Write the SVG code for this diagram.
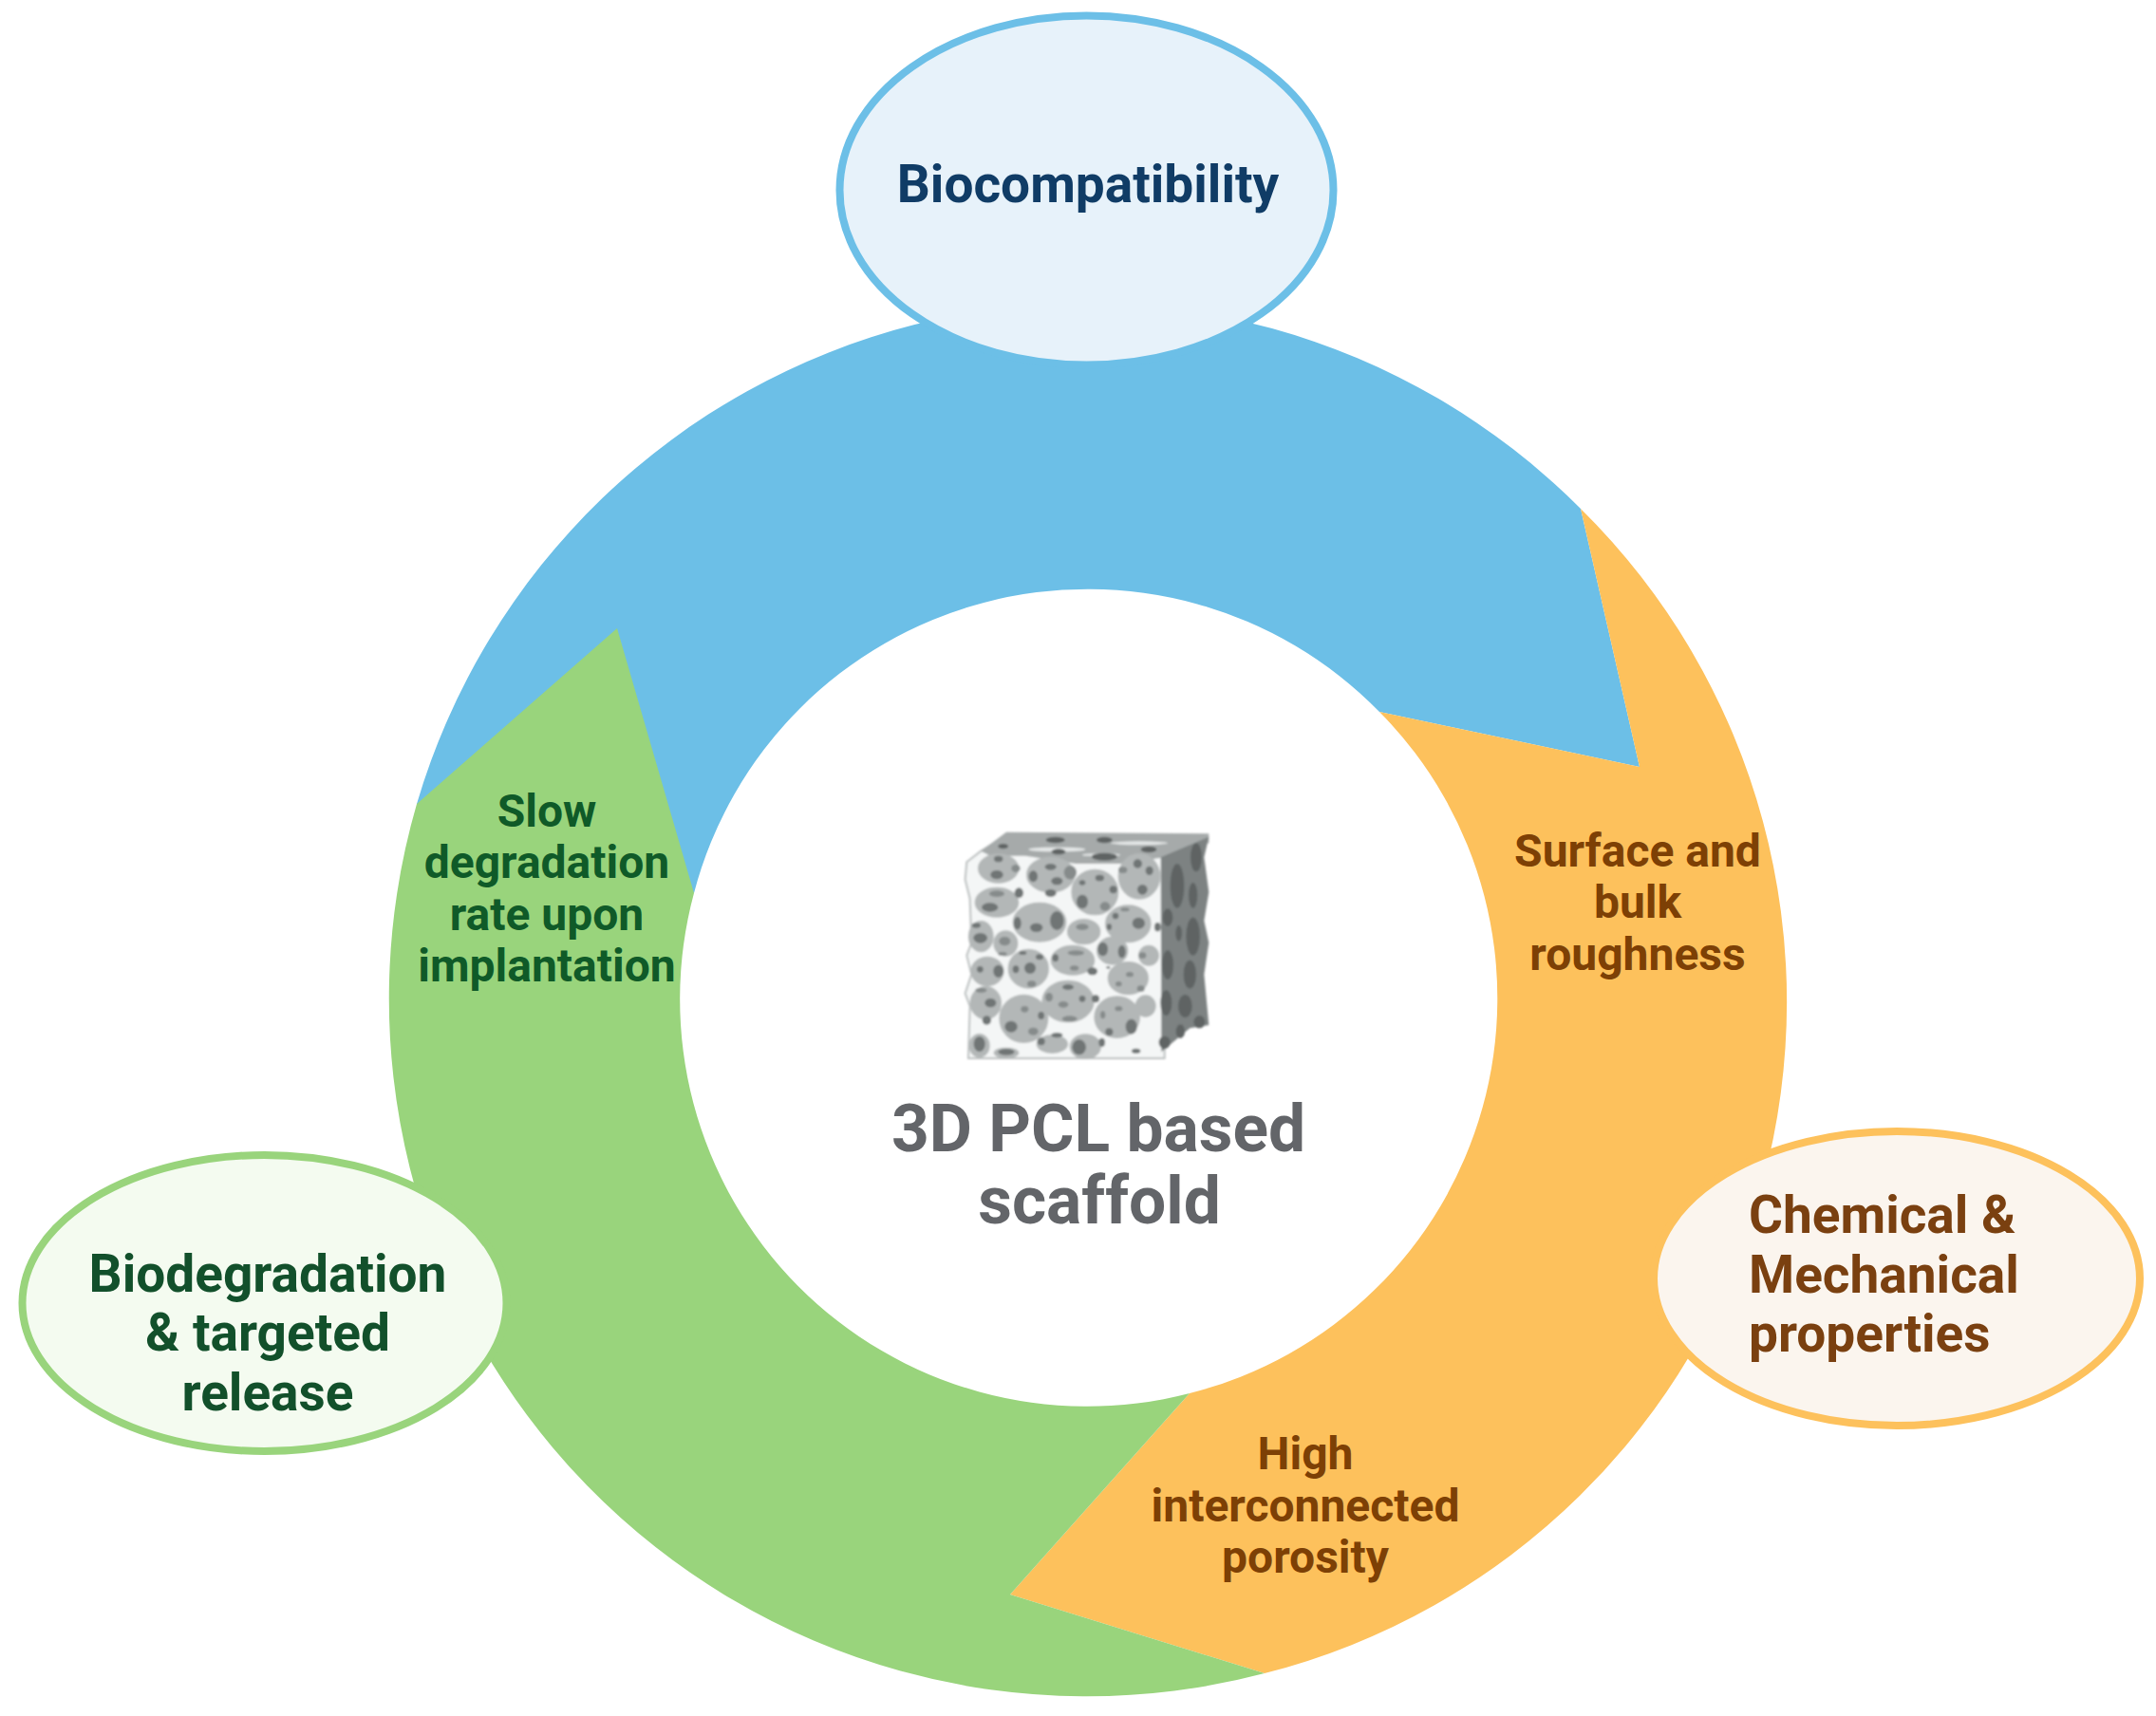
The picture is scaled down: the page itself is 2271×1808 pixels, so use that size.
<svg xmlns="http://www.w3.org/2000/svg" width="2271" height="1808" viewBox="0 0 2271 1808">
<style>
text{font-family:Roboto,"Liberation Sans",sans-serif;font-weight:700;text-anchor:middle}
.big{font-size:55px}.small{font-size:48px}
.blue{fill:#103c66}.green{fill:#0f5a28}.dgreen{fill:#12502b}.brown{fill:#7d4005}.dbrown{fill:#7a4010}
.centre{font-size:69.500px;fill:#636569}
.pore{fill:#b3b7b7;stroke:#b3b7b7;stroke-width:10}.d{fill:#6f7474}.f{fill:#868b8b}
.node{stroke-width:8}
</style>
<defs><filter id="soft" x="-5%" y="-5%" width="110%" height="110%"><feGaussianBlur stdDeviation="3.500"/></filter></defs>
<g id="ring">
<path id="ring-blue" fill="#6cbfe7" d="M439 847A735 735 0 0 1 1665 536L1727 808L1453 750A429 429 0 0 0 731 941Z"/>
<path id="ring-orange" fill="#fdc15c" d="M1665 536A730 730 0 0 1 1332 1763L1064 1680L1253 1468A429 429 0 0 0 1453 750L1727 808Z"/>
<path id="ring-green" fill="#99d47c" d="M650 662L731 941A429 429 0 0 0 1253 1468L1064 1680L1332 1763A735 735 0 0 1 439 847Z"/>
</g>
<g id="node-biocompatibility">
<ellipse class="node" cx="1144.500" cy="200.500" rx="260" ry="184" fill="#e7f2fa" stroke="#6cbfe7"/>
<text class="big blue" x="1146" y="213">Biocompatibility</text>
</g>
<g id="node-biodegradation">
<ellipse class="node" cx="278.500" cy="1373" rx="255" ry="156" fill="#f4fbf0" stroke="#99d47c"/>
<text class="big dgreen" x="282" y="1361">Biodegradation</text>
<text class="big dgreen" x="282" y="1423">&amp; targeted</text>
<text class="big dgreen" x="282" y="1486">release</text>
</g>
<g id="node-chemical">
<ellipse class="node" cx="1998" cy="1347" rx="256" ry="155" fill="#fbf5ee" stroke="#fdc15c"/>
<text class="big dbrown" x="1842" y="1299" style="text-anchor:start">Chemical &amp;</text>
<text class="big dbrown" x="1842" y="1362" style="text-anchor:start">Mechanical</text>
<text class="big dbrown" x="1842" y="1424" style="text-anchor:start">properties</text>
</g>
<g id="label-slow">
<text class="small green" x="576" y="871">Slow</text>
<text class="small green" x="576" y="925">degradation</text>
<text class="small green" x="576" y="980">rate upon</text>
<text class="small green" x="576" y="1034">implantation</text>
</g>
<g id="label-surface">
<text class="small brown" x="1725" y="913">Surface and</text>
<text class="small brown" x="1725" y="967">bulk</text>
<text class="small brown" x="1725" y="1022">roughness</text>
</g>
<g id="label-porosity">
<text class="small brown" x="1375" y="1548">High</text>
<text class="small brown" x="1375" y="1603">interconnected</text>
<text class="small brown" x="1375" y="1657">porosity</text>
</g>
<g id="scaffold" transform="translate(1000 860) scale(.33333)" filter="url(#soft)">
<path fill="#f4f6f6" stroke="#bcc0c0" stroke-width="6" d="M55 145L100 110L180 60L680 60L680 765L60 765L65 600L50 560L70 500L55 440L70 400L65 260L50 200Z"/>
<path fill="#a6aaaa" d="M100 110L180 50L820 55L820 85L680 130L540 150L400 150L240 125L130 125Z"/>
<path fill="#7d8282" d="M668 130L820 65L805 130L820 240L805 330L820 400L805 500L820 660L760 670L670 745Z"/>
<g fill="#5f6464">
<ellipse cx="720" cy="220" rx="22" ry="70"/><ellipse cx="780" cy="130" rx="18" ry="45"/><ellipse cx="690" cy="320" rx="16" ry="28"/><ellipse cx="770" cy="250" rx="14" ry="40"/><ellipse cx="770" cy="380" rx="22" ry="60"/><ellipse cx="725" cy="370" rx="10" ry="25"/><ellipse cx="690" cy="470" rx="18" ry="46"/><ellipse cx="760" cy="500" rx="20" ry="45"/><ellipse cx="685" cy="590" rx="18" ry="40"/><ellipse cx="745" cy="600" rx="22" ry="36"/><ellipse cx="680" cy="715" rx="18" ry="20"/><ellipse cx="790" cy="650" rx="18" ry="20"/><ellipse cx="730" cy="680" rx="14" ry="22"/>
</g>
<g fill="#e3e6e6"><ellipse cx="340" cy="105" rx="90" ry="7"/><ellipse cx="600" cy="85" rx="90" ry="6"/><ellipse cx="480" cy="122" rx="60" ry="5"/></g>
<g fill="#5e6363"><ellipse cx="335" cy="75" rx="30" ry="10"/><ellipse cx="490" cy="75" rx="25" ry="10"/><ellipse cx="345" cy="112" rx="22" ry="9"/><ellipse cx="490" cy="128" rx="40" ry="12"/><ellipse cx="630" cy="105" rx="25" ry="10"/><ellipse cx="170" cy="95" rx="16" ry="8"/></g>
<g class="pores">
<ellipse class="pore" cx="155" cy="165" rx="60" ry="42"/>
<ellipse class="pore" cx="320" cy="185" rx="72" ry="52"/>
<ellipse class="pore" cx="460" cy="240" rx="70" ry="68"/>
<ellipse class="pore" cx="600" cy="190" rx="62" ry="68"/>
<ellipse class="pore" cx="150" cy="272" rx="65" ry="43"/>
<ellipse class="pore" cx="285" cy="335" rx="80" ry="58"/>
<ellipse class="pore" cx="425" cy="365" rx="48" ry="36"/>
<ellipse class="pore" cx="565" cy="340" rx="68" ry="55"/>
<ellipse class="pore" cx="100" cy="380" rx="35" ry="45"/>
<ellipse class="pore" cx="178" cy="402" rx="34" ry="36"/>
<ellipse class="pore" cx="390" cy="455" rx="65" ry="43"/>
<ellipse class="pore" cx="515" cy="425" rx="45" ry="40"/>
<ellipse class="pore" cx="250" cy="482" rx="60" ry="58"/>
<ellipse class="pore" cx="120" cy="490" rx="48" ry="42"/>
<ellipse class="pore" cx="565" cy="512" rx="60" ry="48"/>
<ellipse class="pore" cx="375" cy="585" rx="78" ry="62"/>
<ellipse class="pore" cx="235" cy="640" rx="73" ry="72"/>
<ellipse class="pore" cx="530" cy="635" rx="68" ry="62"/>
<ellipse class="pore" cx="115" cy="590" rx="45" ry="48"/>
<ellipse class="pore" cx="325" cy="720" rx="45" ry="25"/>
<ellipse class="pore" cx="430" cy="728" rx="45" ry="35"/>
<ellipse class="pore" cx="95" cy="725" rx="28" ry="33"/>
<ellipse class="pore" cx="180" cy="748" rx="35" ry="12"/>
<ellipse class="pore" cx="620" cy="600" rx="28" ry="30"/>
<ellipse class="pore" cx="630" cy="440" rx="28" ry="28"/>
</g>
<g class="spots">
<ellipse class="d" cx="155" cy="135" rx="14" ry="10"/><ellipse class="d" cx="150" cy="185" rx="20" ry="14"/><ellipse class="f" cx="210" cy="165" rx="14" ry="12"/>
<ellipse class="d" cx="320" cy="160" rx="18" ry="10"/><ellipse class="d" cx="265" cy="190" rx="14" ry="18"/><ellipse class="d" cx="340" cy="205" rx="18" ry="12"/><ellipse class="f" cx="382" cy="178" rx="20" ry="22"/><ellipse class="d" cx="320" cy="243" rx="18" ry="12"/>
<ellipse class="d" cx="420" cy="210" rx="10" ry="8"/><ellipse class="d" cx="475" cy="195" rx="14" ry="10"/><ellipse class="d" cx="518" cy="232" rx="12" ry="12"/><ellipse class="d" cx="420" cy="270" rx="18" ry="22"/><ellipse class="f" cx="492" cy="285" rx="16" ry="14"/>
<ellipse class="d" cx="595" cy="150" rx="14" ry="14"/><ellipse class="d" cx="632" cy="172" rx="12" ry="14"/><ellipse class="d" cx="610" cy="232" rx="16" ry="16"/><ellipse class="f" cx="548" cy="170" rx="14" ry="10"/>
<ellipse class="f" cx="150" cy="245" rx="24" ry="10"/><ellipse class="d" cx="220" cy="242" rx="14" ry="16"/><ellipse class="d" cx="128" cy="288" rx="26" ry="14"/>
<ellipse class="d" cx="215" cy="338" rx="12" ry="20"/><ellipse class="d" cx="275" cy="352" rx="20" ry="14"/><ellipse class="d" cx="340" cy="330" rx="22" ry="30"/>
<ellipse class="f" cx="420" cy="350" rx="20" ry="10"/><ellipse class="d" cx="525" cy="315" rx="10" ry="10"/><ellipse class="d" cx="598" cy="338" rx="20" ry="18"/><ellipse class="f" cx="555" cy="295" rx="14" ry="6"/><ellipse class="d" cx="505" cy="350" rx="8" ry="10"/><ellipse class="d" cx="658" cy="350" rx="10" ry="14"/>
<ellipse class="d" cx="85" cy="345" rx="14" ry="8"/><ellipse class="d" cx="98" cy="385" rx="22" ry="16"/><ellipse class="f" cx="175" cy="395" rx="18" ry="14"/><ellipse class="f" cx="168" cy="435" rx="14" ry="6"/>
<ellipse class="d" cx="232" cy="432" rx="12" ry="6"/><ellipse class="d" cx="285" cy="445" rx="12" ry="9"/><ellipse class="d" cx="255" cy="480" rx="18" ry="18"/><ellipse class="d" cx="210" cy="484" rx="10" ry="12"/><ellipse class="f" cx="260" cy="530" rx="14" ry="10"/>
<ellipse class="d" cx="155" cy="490" rx="16" ry="20"/><ellipse class="d" cx="97" cy="484" rx="10" ry="10"/><ellipse class="f" cx="400" cy="432" rx="26" ry="8"/><ellipse class="d" cx="335" cy="448" rx="10" ry="12"/><ellipse class="f" cx="395" cy="480" rx="14" ry="8"/><ellipse class="d" cx="452" cy="490" rx="16" ry="12"/>
<ellipse class="d" cx="485" cy="420" rx="16" ry="22"/><ellipse class="d" cx="545" cy="428" rx="12" ry="20"/><ellipse class="d" cx="502" cy="478" rx="6" ry="4"/><ellipse class="f" cx="610" cy="440" rx="12" ry="10"/>
<ellipse class="f" cx="570" cy="500" rx="12" ry="8"/><ellipse class="f" cx="535" cy="530" rx="10" ry="8"/><ellipse class="f" cx="605" cy="545" rx="12" ry="10"/>
<ellipse class="d" cx="375" cy="540" rx="18" ry="9"/><ellipse class="d" cx="420" cy="577" rx="10" ry="10"/><ellipse class="d" cx="462" cy="577" rx="12" ry="12"/><ellipse class="f" cx="360" cy="595" rx="16" ry="10"/><ellipse class="f" cx="315" cy="572" rx="12" ry="14"/><ellipse class="f" cx="380" cy="640" rx="24" ry="9"/>
<ellipse class="f" cx="238" cy="610" rx="12" ry="10"/><ellipse class="d" cx="290" cy="630" rx="10" ry="12"/><ellipse class="d" cx="195" cy="665" rx="20" ry="18"/><ellipse class="f" cx="265" cy="680" rx="16" ry="12"/><ellipse class="d" cx="290" cy="712" rx="12" ry="12"/>
<ellipse class="f" cx="535" cy="608" rx="12" ry="8"/><ellipse class="f" cx="485" cy="628" rx="8" ry="12"/><ellipse class="d" cx="575" cy="665" rx="18" ry="24"/><ellipse class="d" cx="505" cy="682" rx="12" ry="12"/>
<ellipse class="d" cx="130" cy="590" rx="18" ry="14"/><ellipse class="f" cx="100" cy="550" rx="18" ry="8"/><ellipse class="d" cx="118" cy="645" rx="14" ry="14"/><ellipse class="d" cx="340" cy="692" rx="18" ry="8"/>
<ellipse class="d" cx="95" cy="720" rx="18" ry="24"/><ellipse class="d" cx="180" cy="745" rx="26" ry="10"/><ellipse class="d" cx="410" cy="730" rx="22" ry="24"/><ellipse class="d" cx="482" cy="715" rx="10" ry="14"/><ellipse class="d" cx="590" cy="742" rx="14" ry="8"/>
</g>
</g>
<g id="label-scaffold">
<text class="centre" x="1157" y="1213">3D PCL based</text>
<text class="centre" x="1158" y="1289">scaffold</text>
</g>
</svg>
